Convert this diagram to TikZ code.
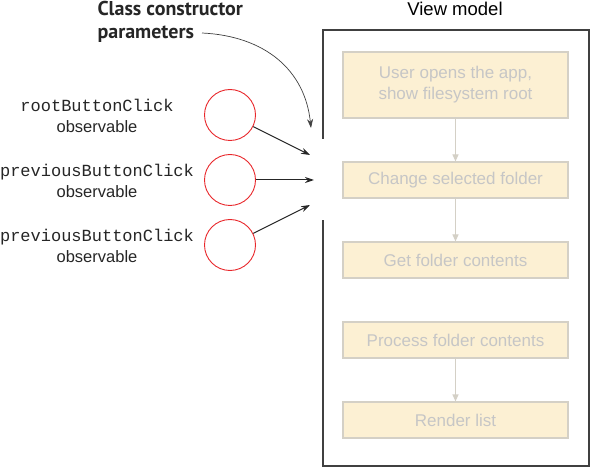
\documentclass[tikz,border=0pt]{standalone}
\usepackage{fontspec}
\setmainfont{Liberation Sans}
\setmonofont{Liberation Mono}
\newfontfamily\titlefont{PT Sans}
\usetikzlibrary{arrows.meta}
\definecolor{stepfill}{HTML}{FCF0D3}
\definecolor{stepline}{HTML}{D4D0C6}
\definecolor{steptext}{HTML}{C6C6C6}
\definecolor{obsred}{HTML}{E8262A}
\tikzset{
  stepbox/.style={draw=stepline, fill=stepfill, line width=1.1pt, minimum width=225pt,
    minimum height=36pt, align=center, text=steptext, font=\fontsize{17}{21}\selectfont},
  stepflow/.style={draw=stepline, line width=1.1pt, -{Triangle[length=7pt,width=6pt]}},
  obscircle/.style={draw=obsred, line width=0.9pt, circle, minimum size=51pt, inner sep=0pt},
  obslabel/.style={align=center, font=\fontsize{16.5}{21}\selectfont, text=black!85},
  feed/.style={line width=1pt, draw=black!85, -{Stealth[length=9pt,width=6pt]}}
}
\begin{document}
\begin{tikzpicture}[x=1pt, y=-1pt]
			%%%%% START %%%%%
			\useasboundingbox (0, 0) rectangle (590, 468);

			% view model frame, open where the inputs come in
			\node[font=\fontsize{18.5}{22}\selectfont] (vmTitle) at (455, 9) {View model};
			\draw[line width=1.2pt, color=black!75] (323, 139) -- (323, 30) -- (589, 30) -- (589, 466) -- (323, 466) -- (323, 220);

			\node[stepbox, minimum height=66pt] (userOpens) at (455.5, 85) {User opens the app,\\show filesystem root};
			\node[stepbox] (changeFolder) at (455.5, 180) {Change selected folder};
			\node[stepbox] (getContents) at (455.5, 260) {Get folder contents};
			\node[stepbox] (processContents) at (455.5, 340) {Process folder contents};
			\node[stepbox] (renderList) at (455.5, 420) {Render list};

			\draw[stepflow] (userOpens) -- (changeFolder);
			\draw[stepflow] (changeFolder) -- (getContents);
			\draw[stepflow] (processContents) -- (renderList);

			% observables
			\node[obscircle] (rootObs) at (230, 115) {};
			\node[obscircle] (prevObs) at (230, 180) {};
			\node[obscircle] (prevObsB) at (230, 245) {};

			\node[obslabel] (rootLbl) at (97, 116) {{\fontsize{17}{21}\ttfamily rootButtonClick}\\observable};
			\node[obslabel] (prevLbl) at (97, 181) {{\fontsize{17}{21}\ttfamily previousButtonClick}\\observable};
			\node[obslabel] (prevLblB) at (97, 246) {{\fontsize{17}{21}\ttfamily previousButtonClick}\\observable};

			\coordinate (inTop) at (310, 155);
			\coordinate (inMid) at (314, 180);
			\coordinate (inBot) at (310, 205);

			\draw[feed] (rootObs) -- (inTop);
			\draw[feed] (prevObs) -- (inMid);
			\draw[feed] (prevObsB) -- (inBot);

			% constructor note
			\node[anchor=west, align=left, font=\titlefont\bfseries\fontsize{20}{23}\selectfont, text=black!85] (ctorNote) at (94, 22) {Class constructor\\parameters};
			\coordinate (ctorStart) at (202, 33);
			\coordinate (ctorEnd) at (311, 128);
			\draw[line width=0.7pt, draw=black!75, -{Stealth[length=9pt,width=6pt]}] (ctorStart) .. controls (265, 36) and (305, 70) .. (ctorEnd);
			%%%%% END %%%%%
\end{tikzpicture}
\end{document}
